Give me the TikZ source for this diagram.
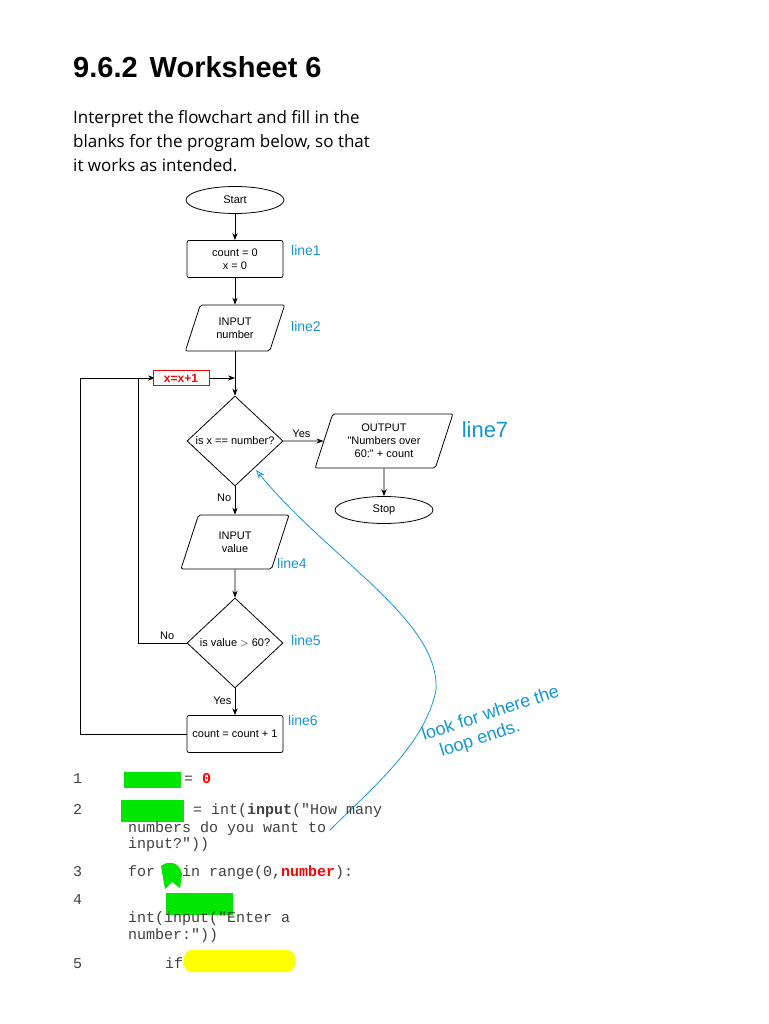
\documentclass[tikz,border=0pt]{standalone}
\usepackage{fontspec}
\setmainfont{Open Sans}
\newfontfamily\fcsans{Liberation Sans}
\newfontfamily\fcmono{Liberation Mono}
\usetikzlibrary{shapes.geometric,arrows.meta}
\definecolor{hand}{RGB}{20,150,210}
\definecolor{grn}{RGB}{0,230,0}
\definecolor{yel}{RGB}{255,255,0}
\begin{document}
\begin{tikzpicture}[x=1pt,y=-1pt,
  fc/.style={font=\fcsans\fontsize{11}{13}\selectfont,align=center},
  term/.style={fc,draw,thick,ellipse,minimum width=98pt,minimum height=27pt},
  proc/.style={fc,draw,thick,rounded corners=2pt,minimum width=96pt,minimum height=37pt},
  io/.style={fc,draw,thick,trapezium,trapezium left angle=72,trapezium right angle=108,rounded corners=2pt,minimum width=66pt,minimum height=46pt,inner xsep=2pt},
  dec/.style={fc,draw,thick,diamond,aspect=1.07,inner sep=0pt,minimum width=96pt,minimum height=90pt},
  arr/.style={thick,-{Stealth[length=7pt]}},
  ln/.style={thick},
  hw/.style={font=\fcsans\fontsize{14}{16}\selectfont,text=hand},
  code/.style={font=\fcmono\fontsize{15}{17}\selectfont,text=black!75,anchor=base west,inner sep=0pt},
  hl/.style={fill=grn,draw=none}]
\useasboundingbox (0,0) rectangle (768,1024);
\node[anchor=base west,inner sep=0pt,font=\fcsans\bfseries\fontsize{29}{32}\selectfont] (title) at (73,78) {9.6.2\hspace{12pt}Worksheet 6};
\node[anchor=north west,inner sep=0pt,align=left,font=\fontsize{17}{24}\selectfont] (intro) at (73,110) {Interpret the flowchart and fill in the\\blanks for the program below, so that\\it works as intended.};
% flowchart
\node[term] (start) at (235,200) {Start};
\node[proc] (init) at (235,259) {count = 0\\x = 0};
\node[io] (inp) at (235,328) {INPUT\\number};
\node[dec] (d1) at (235,441) {is x == number?};
\node[io,minimum height=54pt] (out) at (384,441) {OUTPUT\\\char34Numbers over\\60:\char34{} + count};
\node[term] (stop) at (384,510) {Stop};
\node[io,minimum height=54pt] (val) at (235,542) {INPUT\\value};
\node[dec] (d2) at (235,643) {is value $>$ 60?};
\node[proc] (cnt) at (235,734) {count = count + 1};
\coordinate (m) at (235,378);
\coordinate (l1) at (138,378);
\coordinate (l2) at (80,378);
\coordinate (n1) at (138,643);
\coordinate (c1) at (80,734);
\draw[arr] (start) -- (init);
\draw[arr] (init) -- (inp);
\draw[ln] (inp) -- (m);
\draw[arr] (m) -- (d1);
\draw[arr] (d1) -- node[fc,above,pos=0.45]{Yes} (out);
\draw[arr] (out) -- (stop);
\draw[arr] (d1) -- node[fc,left,pos=0.4]{No} (val);
\draw[arr] (val) -- (d2);
\draw[arr] (d2) -- node[fc,left,pos=0.45]{Yes} (cnt);
\draw[ln] (d2.west) -- node[fc,above,pos=0.4]{No} (n1) -- (l1);
\draw[arr] (l1) -- (155,378);
\draw[ln] (cnt.west) -- (c1) -- (l2);
\draw[arr] (l2) -- (m);
\node[draw=red,thick,fill=white,text=red,inner sep=1pt,font=\fcsans\bfseries\fontsize{12}{12}\selectfont,minimum width=56pt,minimum height=15pt] (xinc) at (181,378) {x=x+1};
% handwritten labels
\node[hw] (h1) at (306,250) {line1};
\node[hw] (h2) at (306,326) {line2};
\node[hw,font=\fcsans\fontsize{22}{24}\selectfont] (h7) at (485,430) {line7};
\node[hw] (h4) at (292,563) {line4};
\node[hw] (h5) at (306,640) {line5};
\node[hw] (h6) at (303,720) {line6};
\node[hw,font=\fcsans\fontsize{18}{21}\selectfont,rotate=18,align=left] (look) at (494,724) {look for where the\\\hspace{12pt}loop ends.};
\coordinate (tip) at (256,470);
\coordinate (tail) at (330,830);
\draw[hand,thick,{Stealth[length=9pt,open]}-] (tip) .. controls (330,560) and (440,620) .. (436,690) .. controls (425,745) and (370,790) .. (tail);
% code
\foreach \n/\y in {1/783,2/814,3/876,4/904,5/968}{\node[code] (num\n) at (73,\y) {\n};}
\fill[hl] (124,772) rectangle (181,788);
\fill[hl] (121,800) rectangle (184,822);
\fill[hl] (161,866) .. controls (168,860) and (180,862) .. (182,874) -- (180,888) -- (172,882) -- (165,889) -- cycle;
\fill[hl] (166,893) rectangle (233,915);
\fill[yel,rounded corners=8pt] (184,950) rectangle (295,972);
\node[code] (c1t) at (184,783) {= \textcolor{red}{\textbf{0}}};
\node[code] (c2t) at (193,814) {= int(\textbf{input}("How many};
\node[code] (c2b) at (128,832) {numbers do you want to};
\node[code] (c2c) at (128,848) {input?"))};
\node[code] (c3t) at (128,876) {for \phantom{x} in range(0,\textcolor{red}{\textbf{number}}):};
\node[code] (c4b) at (128,922) {int(input("Enter a};
\node[code] (c4c) at (128,939) {number:"))};
\node[code] (c5t) at (165,968) {if};
\end{tikzpicture}
\end{document}
